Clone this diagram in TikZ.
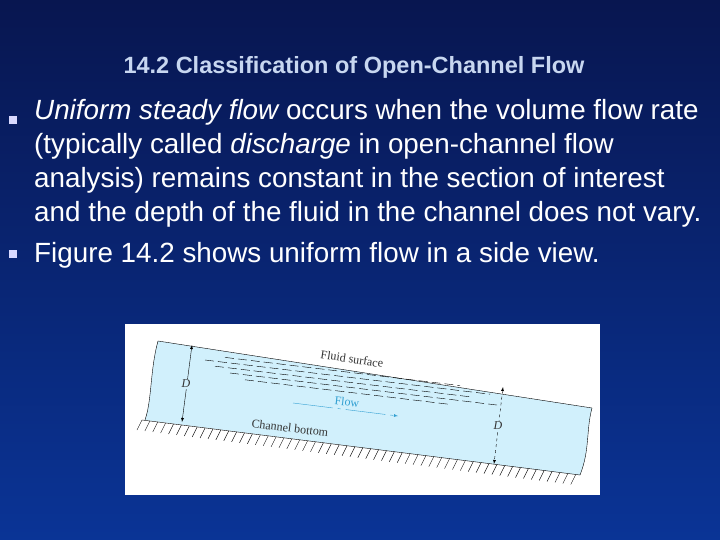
\documentclass[tikz,border=0pt]{standalone}
\usepackage{fontspec}
\setmainfont{Liberation Serif}
\newfontfamily\arial{Liberation Sans}
\definecolor{flowc}{RGB}{50,160,210}
\definecolor{bgtop}{RGB}{8,22,80}
\definecolor{bgbot}{RGB}{10,52,150}
\definecolor{titlec}{RGB}{200,215,240}
\begin{document}
\begin{tikzpicture}[x=1pt,y=-1pt,
  body/.style={text=white,font=\arial\fontsize{27.8}{32}\selectfont,anchor=base west,inner sep=0},
  bul/.style={fill=white!85!blue,minimum size=8pt,inner sep=0},
  lbl/.style={font=\fontsize{12}{13}\selectfont,text=black!80}]
\shade[top color=bgtop,bottom color=bgbot] (0,0) rectangle (720,540);
\useasboundingbox (0,0) rectangle (720,540);
\node[font=\arial\bfseries\fontsize{23.5}{26}\selectfont,text=titlec] (title) at (354,67) {14.2 Classification of Open-Channel Flow};
\node[bul] (b1) at (13,120) {};
\node[bul] (b2) at (13,254) {};
\node[body] (l1) at (34,120) {\itshape Uniform steady flow\upshape{} occurs when the volume flow rate};
\node[body] (l2) at (34,154) {(typically called \itshape discharge\upshape{} in open-channel flow};
\node[body] (l3) at (34,188) {analysis) remains constant in the section of interest};
\node[body] (l4) at (34,222) {and the depth of the fluid in the channel does not vary.};
\node[body] (l5) at (34,262) {Figure 14.2 shows uniform flow in a side view.};
% figure panel
\fill[white] (125,324) rectangle (600,495);
\fill[cyan!18!white] (158,341) -- (592,408) .. controls (586,430) and (590,450) .. (580,475) -- (145,420) .. controls (152,400) and (150,370) .. (158,341) -- cycle;
\draw[thin] (158,341) -- (592,408);
\draw[thin] (592,408) .. controls (586,430) and (590,450) .. (580,475);
\draw[thin] (158,341) .. controls (150,370) and (152,400) .. (145,420);
\draw[thin] (142,420) -- (580,475);
\foreach \t in {0,0.018,...,1.0} {
  \draw[thin] ({142+438*\t},{420+55*\t}) -- ++(-5,10);
}
% surface dashes
\foreach \yy/\xa/\xb in {0/225/460,5/205/490,10/215/470,15/230/500,20/245/450} {
  \draw[thin,dash pattern=on 9pt off 4pt] (\xa,{355+\yy+(\xa-205)*0.12}) -- (\xb,{355+\yy+(\xb-205)*0.12});
}
\node[lbl,rotate=-8.5] (fs) at (352,359) {Fluid surface};
\node[lbl,rotate=-7] (cb) at (290,428) {Channel bottom};
\node[font=\fontsize{12}{13}\selectfont,text=flowc,rotate=-6] (fl) at (347,402) {Flow};
\coordinate (fa) at (293,403);
\coordinate (fb) at (398,416);
\draw[-latex,flowc,dash pattern=on 40pt off 5pt on 3pt off 5pt] (fa) -- (fb);
\coordinate (d1a) at (192,345); \coordinate (d1b) at (182,422);
\draw[latex-latex,thin] (d1a) -- (d1b);
\node[lbl,font=\itshape\fontsize{12}{13}\selectfont,fill=cyan!18!white,inner sep=1pt] (d1) at (186,384) {D};
\coordinate (d2a) at (503,387); \coordinate (d2b) at (494,464);
\draw[latex-latex,thin,dashed] (d2a) -- (d2b);
\node[lbl,font=\itshape\fontsize{12}{13}\selectfont,fill=cyan!18!white,inner sep=1pt] (d2) at (498,426) {D};
\end{tikzpicture}
\end{document}
